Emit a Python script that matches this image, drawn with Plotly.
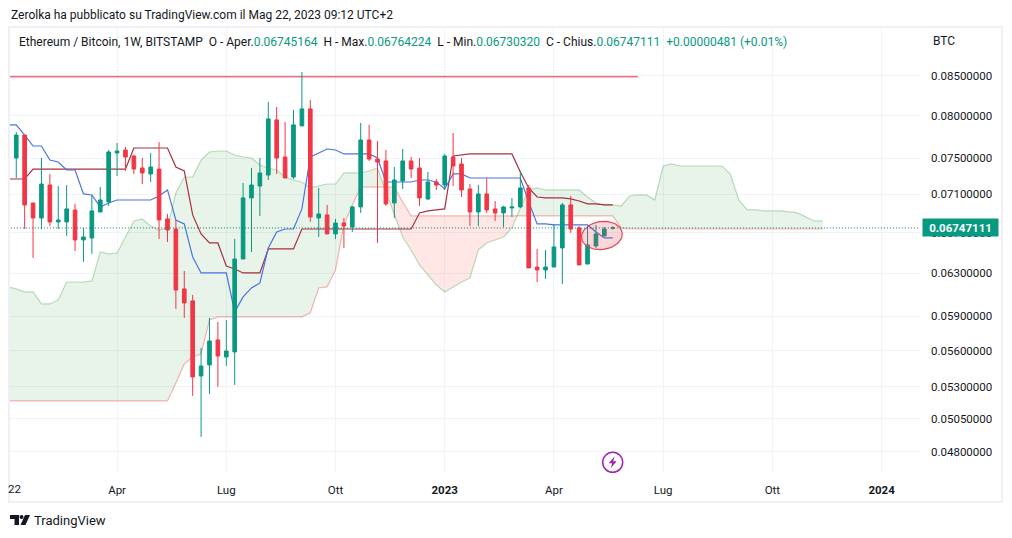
import numpy as np
import pandas as pd
import plotly.graph_objects as go

# weekly ETH/BTC, Bitstamp. first entry is just off the left edge (ichimoku lines only)
weeks = pd.date_range("2022-01-03", periods=98, freq="7D")

opens = [.07504,.07770,.07008,.06850,.07202,.06809,.06809,.06934,.06625,.06645,.06913,.07019,
         .07561,.07596,.07527,.07391,.07324,.07379,.06840,.06736,.06150,.06039,.05388,.05479,
         .05691,.05546,.05588,.06436,.07062,.07191,.07312,.07951,.07515,.07290,.07879,.08085,
         .06850,.06882,.06686,.06798,.06757,.06966,.07712,.07492,.07470,.07008,.07246,.07470,
         .07391,.07051,.07235,.07202,.07515,.07436,.07159,.06913,.07105,.06945,.06903,.06955,
         .06966,.07170,.06358,.06330,.06358,.06545,.06987,.06747,.06387,.06565,.06665,.06745164]
highs = [.07806,.07770,.07008,.07504,.07324,.07191,.07202,.06998,.06747,.07094,.07180,.07596,
         .07677,.07630,.07538,.07504,.07561,.07688,.06892,.06829,.06320,.06094,.05622,.05885,
         .05849,.05867,.06635,.07224,.07391,.07504,.08171,.08109,.07927,.08073,.08552,.08196,
         .07170,.06987,.06840,.06850,.06976,.07915,.07891,.07700,.07596,.07402,.07607,.07515,
         .07504,.07346,.07268,.07550,.07794,.07504,.07213,.07202,.07279,.07029,.06976,.07062,
         .07357,.07202,.06535,.06525,.06788,.07008,.07083,.06767,.06767,.06778,.06757,.06764224]
lows = [.07279,.06736,.06446,.06736,.06767,.06736,.06665,.06515,.06407,.06486,.06913,.06976,
        .07301,.07357,.07324,.07213,.07235,.06635,.06605,.05966,.05885,.05227,.04911,.05243,
        .05299,.05470,.05315,.06436,.06505,.06871,.07257,.07324,.07279,.07268,.07879,.06809,
        .06655,.06686,.06635,.06545,.06706,.06903,.07470,.06595,.06976,.06850,.07159,.07279,
        .06976,.07040,.07148,.07148,.07191,.07072,.06767,.06767,.06903,.06819,.06757,.06861,
        .06955,.06349,.06215,.06244,.06358,.06197,.06696,.06378,.06387,.06545,.06665,.06730320]
closes = [.07770,.06987,.06850,.07213,.06809,.06829,.06945,.06625,.06655,.06924,.07040,.07573,
          .07584,.07515,.07379,.07335,.07402,.06829,.06726,.06140,.06020,.05380,.05470,.05682,
          .05554,.05596,.06436,.07062,.07202,.07335,.07963,.07504,.07279,.07891,.08085,.06861,
          .06892,.06686,.06798,.06767,.06966,.07712,.07492,.07458,.06998,.07257,.07470,.07379,
          .07062,.07235,.07202,.07527,.07413,.07148,.06913,.07105,.06934,.06903,.06966,.06966,
          .07170,.06349,.06330,.06358,.06555,.06987,.06736,.06378,.06575,.06686,.06736,.06747111]

tenkan = [.07891,.07891,.07770,.07642,.07642,.07481,.07458,.07368,.07368,.07105,.07094,.06966,
          .07008,.07040,.07040,.07040,.07040,.07040,.07083,.07148,.06829,.06788,.06456,.06301,
          .06301,.06301,.06301,.05939,.06076,.06159,.06206,.06545,.06706,.06736,.06736,.06945,
          .07515,.07561,.07607,.07596,.07550,.07550,.07550,.07550,.07504,.07235,.07235,.07235,
          .07235,.07257,.07257,.07235,.07159,.07324,.07324,.07279,.07279,.07279,.07279,.07279,
          .07279,.07279,.07019,.06788,.06788,.06778,.06778,.06778,.06778,.06778,.06706,.06645,.06645]
kijun = [.07268,.07268,.07268] + [.07379] * 12 + [.07619] * 5 + [
         .07402,.07357,.06882,.06686,.06595,.06595,.06368,.06339,.06301,.06301,.06301,
         .06535,.06535,.06535,.06535] + [.06736] * 14 + [
         .06903,.06924,.06934,.06945,.07527,.07538,.07550,.07550,.07550,.07550,.07550,.07550,
         .07346,.07170,.07072,.07062,.07062,.07062,.07051,.07029,.06998,.06998,.06987,.06987]
senkou_a = [.06169,.06150,.06122,.06122,.06011,.06011,.06048,.06215,.06215,.06215,.06225,.06505,
            .06486,.06495,.06655,.06819,.06840,.06767,.06726,.06747,.07115,.07290,.07290,.07481,
            .07573,.07584,.07584,.07538,.07515,.07504,.07424,.07391,.07368,.07290,.07257,.07235,
            .07170,.07191,.07213,.07213,.07335,.07335,.07335,.07357,.07391,.07126,.06882,.06655,
            .06525,.06378,.06282,.06187,.06122,.06169,.06215,.06253,.06525,.06595,.06625,.06655,
            .06747,.06955,.07148,.07170,.07148,.07148,.07148,.07148,.07148,.07072,.07008,.06987,
            .06987,.06976,.07083,.07094,.07094,.07040,.07413,.07436,.07413,.07413,.07413,.07413,
            .07413,.07413,.07324,.07040,.06934,.06934,.06924,.06924,.06924,.06913,.06903,.06861,
            .06819,.06819]
senkou_b = [.05187] * 20 + [.05331,.05487,.05546,.05571,.05867] + [.05894] * 11 + [
            .05930,.06159,.06169,.06330,.06778,.06987] + [.07180] * 5 + [.07019] + [.06871] * 25 + [
            .06747] + [.06736] * 24

price_ticks = [.085,.08,.075,.071,.067,.063,.059,.056,.053,.0505,.048]
time_ticks = ["2022-04-04","2022-07-04","2022-10-03","2023-01-02","2023-04-03","2023-07-03","2023-10-02","2024-01-01"]
time_labels = ["Apr","Lug","Ott","<b>2023</b>","Apr","Lug","Ott","<b>2024</b>"]

resistance = .0849
resistance_end = "2023-06-12"
last_price = closes[-1]

GREEN = "#089981"
RED = "#f23645"
GRID = "#f0f3fa"
TEXT = "#131722"
FONT = "Roboto"
W_PX = 910  # plot area in pixels
H_PX = 446


def px(x):
    return (x - 10) / W_PX


def py(y):
    return (473 - y) / H_PX


def cloud_parts(xs, a, b):
    # split the cloud where the two spans cross so each side gets its own colour
    a = np.log(a)
    b = np.log(b)
    parts = []
    cur = [(xs[0], a[0], b[0])]
    for i in range(1, len(xs)):
        if (a[i - 1] - b[i - 1]) * (a[i] - b[i]) < 0:
            t = (a[i - 1] - b[i - 1]) / ((a[i - 1] - b[i - 1]) - (a[i] - b[i]))
            cx = xs[i - 1] + (xs[i] - xs[i - 1]) * t
            cy = a[i - 1] + (a[i] - a[i - 1]) * t
            cur.append((cx, cy, cy))
            parts.append(cur)
            cur = [(cx, cy, cy)]
        cur.append((xs[i], a[i], b[i]))
    parts.append(cur)
    return parts


fig = go.Figure()

for part in cloud_parts(weeks, np.array(senkou_a), np.array(senkou_b)):
    up = sum(p[1] - p[2] for p in part) > 0
    x = [p[0] for p in part] + [p[0] for p in part[::-1]]
    y = list(np.exp([p[1] for p in part])) + list(np.exp([p[2] for p in part[::-1]]))
    fig.add_trace(go.Scatter(x=x, y=y, mode="lines", line=dict(width=0), fill="toself",
                             fillcolor="rgba(67,160,71,0.12)" if up else "rgba(244,67,54,0.13)",
                             hoverinfo="skip"))

fig.add_trace(go.Scatter(x=weeks, y=senkou_a, mode="lines", line=dict(color="rgba(67,160,71,0.35)", width=1.2)))
fig.add_trace(go.Scatter(x=weeks, y=senkou_b, mode="lines", line=dict(color="rgba(244,67,54,0.38)", width=1.2)))
fig.add_trace(go.Scatter(x=weeks[:73], y=kijun, mode="lines", line=dict(color="#a8303f", width=1.2)))
fig.add_trace(go.Scatter(x=weeks[:73], y=tenkan, mode="lines", line=dict(color="#4a74e0", width=1.2)))
fig.add_trace(go.Scatter(x=[weeks[0], resistance_end], y=[resistance, resistance], mode="lines",
                         line=dict(color="rgba(242,54,69,0.10)", width=3)))
fig.add_trace(go.Scatter(x=[weeks[0], resistance_end], y=[resistance, resistance], mode="lines",
                         line=dict(color="#e0455a", width=1)))

# candles sit on an overlaid y axis, scatter would be drawn over them otherwise
fig.add_trace(go.Candlestick(x=weeks[1:73], open=opens, high=highs, low=lows, close=closes, yaxis="y2",
                             whiskerwidth=0,
                             increasing=dict(line=dict(color=GREEN, width=1), fillcolor=GREEN),
                             decreasing=dict(line=dict(color=RED, width=1), fillcolor=RED)))

# ellipse drawn over the last candles
t = np.linspace(0, 2 * np.pi, 60)
rot = np.radians(8)
ex = 20.5 * np.cos(t) * np.cos(rot) + 14 * np.sin(t) * np.sin(rot)
ey = -20.5 * np.cos(t) * np.sin(rot) + 14 * np.sin(t) * np.cos(rot)
ellipse_x = pd.Timestamp("2023-05-13") + pd.to_timedelta(ex / 8.4 * 7, unit="D")
ellipse_y = .0667 * np.exp(-ey / 658)
fig.add_trace(go.Scatter(x=ellipse_x, y=ellipse_y, yaxis="y3", mode="lines", fill="toself",
                         fillcolor="rgba(242,54,69,0.2)", line=dict(color="#e0455a", width=1.2)))
fig.add_trace(go.Scatter(x=[weeks[0], "2024-02-02"], y=[last_price, last_price], yaxis="y3", mode="lines",
                         line=dict(color="#067a67", width=1, dash="1px,2px")))

y_range = [np.log10(.04649), np.log10(.09157)]
fig.update_layout(
    width=1012, height=538, autosize=False, showlegend=False,
    margin=dict(l=10, r=92, t=27, b=65),
    paper_bgcolor="white", plot_bgcolor="white",
    font=dict(family=FONT, size=12, color=TEXT),
    xaxis=dict(type="date", range=["2022-01-04 19:00", "2024-02-02"], rangeslider=dict(visible=False),
               tickmode="array", tickvals=time_ticks, ticktext=time_labels, tickangle=0,
               showgrid=True, gridcolor=GRID, gridwidth=1, zeroline=False, showline=False,
               ticks="", ticklabelstandoff=8, tickfont=dict(family=FONT, size=11.5, color=TEXT)),
    yaxis=dict(type="log", range=y_range, side="right", tickmode="array", tickvals=price_ticks,
               ticktext=["%.8f" % p for p in price_ticks], showgrid=True, gridcolor=GRID, gridwidth=1,
               zeroline=False, showline=False, ticks="", ticklabelstandoff=10,
               tickfont=dict(family=FONT, size=11.5, color=TEXT)),
    yaxis2=dict(type="log", range=y_range, overlaying="y", side="right", visible=False),
    yaxis3=dict(type="log", range=y_range, overlaying="y", side="right", visible=False),
    boxgap=0.38,
)

legend_text = (
    "Ethereum / Bitcoin, 1W, BITSTAMP&nbsp;&nbsp;O - Aper.<span style='color:{g}'>0.06745164</span>"
    "&nbsp;&nbsp;H - Max.<span style='color:{g}'>0.06764224</span>"
    "&nbsp;&nbsp;L - Min.<span style='color:{g}'>0.06730320</span>"
    "&nbsp;&nbsp;C - Chius.<span style='color:{g}'>0.06747111</span>"
    "&nbsp;&nbsp;<span style='color:{g}'>+0.00000481 (+0.01%)</span>"
).format(g=GREEN)

notes = [
    ("Zerolka ha pubblicato su TradingView.com il Mag 22, 2023 09:12 UTC+2", 10, 15, 12),
    (legend_text, 18, 42, 12),
    ("BTC", 932, 41, 12),
    ("22", 7, 489, 11.5),
    ("TradingView", 33, 520, 13),
]
for text, x, y, size in notes:
    fig.add_annotation(text=text, x=px(x), y=py(y), xref="paper", yref="paper", xanchor="left", yanchor="middle",
                       showarrow=False, align="left", borderpad=0, font=dict(family=FONT, size=size, color=TEXT))

fig.add_annotation(text="<b>%.8f</b>" % last_price, x=px(922), y=np.log10(last_price), xref="paper", yref="y",
                   xanchor="left", yanchor="middle", showarrow=False, bgcolor=GREEN, width=75, height=17,
                   align="center", borderpad=0, font=dict(family=FONT, size=11.5, color="white"))


def poly(points):
    return "M " + " L ".join("%.5f %.5f" % (px(a), py(b)) for a, b in points) + " Z"


cx, cy = 612.7, 462.3
bolt = [(cx + 2, cy - 6), (cx - 4, cy + 1), (cx - 0.5, cy + 1), (cx - 2, cy + 6), (cx + 4, cy - 1), (cx + 0.5, cy - 1)]
shapes = [
    dict(type="rect", x0=px(9), x1=px(1002), y0=py(502), y1=py(27), line=dict(color="#eef0f5", width=2)),
    dict(type="circle", x0=px(cx - 10), x1=px(cx + 10), y0=py(cy + 10), y1=py(cy - 10),
         line=dict(color="#9c27b0", width=1.5)),
    dict(type="path", path=poly(bolt), fillcolor="#9c27b0", line=dict(width=0)),
    dict(type="path", path=poly([(10, 515), (19, 515), (19, 525), (14.5, 525), (14.5, 519), (10, 519)]),
         fillcolor=TEXT, line=dict(width=0)),
    dict(type="circle", x0=px(19.5), x1=px(23.5), y0=py(519), y1=py(515), fillcolor=TEXT, line=dict(width=0)),
    dict(type="path", path=poly([(25, 515), (30, 515), (25.5, 525), (20.5, 525)]), fillcolor=TEXT, line=dict(width=0)),
]
for s in shapes:
    s.update(xref="paper", yref="paper")
    fig.add_shape(**s)

fig.write_html("out.html", config=dict(displayModeBar=False),
               post_script="document.body.style.margin='0';document.body.style.overflow='hidden';")
